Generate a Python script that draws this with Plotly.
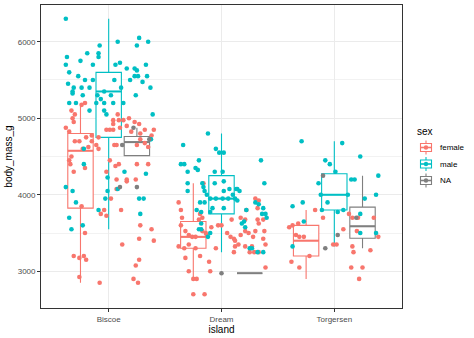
import plotly.graph_objects as go

# ---------------- data ----------------
islands = ["Biscoe", "Dream", "Torgersen"]
sexes = ["female", "male", "NA"]

# box statistics (per island: Biscoe, Dream, Torgersen)
female_q1 = [3825, 3300, 3200]
female_med = [4575, 3450, 3400]
female_q3 = [4800, 3650, 3600]
female_lo = [2850, 2900, 2900]
female_hi = [5200, 4150, 3800]

male_q1 = [4750, 3750, 3800]
male_med = [5350, 3950, 4000]
male_q3 = [5600, 4250, 4275]
male_lo = [3550, 3250, 3325]
male_hi = [6300, 4800, 4700]

na_q1 = [4512, 2975, 3431]
na_med = [4688, 2975, 3588]
na_q3 = [4762, 2975, 3838]
na_lo = [4512, 2975, 3300]
na_hi = [4875, 2975, 4250]

# boxplot outliers
outlier_island = ["Biscoe", "Dream"]
outlier_sex = ["NA", "female"]
outlier_mass = [4100, 2700]

# jittered points: horizontal jitter (island units) and body mass (g)
biscoe_female_jit = [-0.21, -0.24, -0.33, -0.30, -0.32, -0.31, 0.08, 0.09, 0.04, 0.04, 0.13, 0.18, 0.16, 0.23,
                     0.27, 0.32, 0.40, 0.20, 0.10, 0.04, -0.02, 0.01, -0.38, -0.35, -0.15, -0.09, -0.30, -0.26,
                     -0.20, -0.15, 0.38, 0.28, 0.28, 0.32, 0.25, 0.05, 0.07, -0.11, -0.18, 0.35,
                     -0.23, -0.09, -0.33, -0.35, -0.34, -0.21, -0.31, 0.01, 0.09, 0.06, 0.25, 0.35, -0.02, 0.07,
                     0.16, 0.16, 0.24, 0.07, 0.02, 0.11, -0.04, -0.07, -0.02, -0.24, 0.28, 0.38, -0.21, 0.27,
                     0.40, 0.12, -0.31, -0.26, -0.22, -0.20, 0.27, 0.24, -0.26, 0.22, 0.26, -0.08]
biscoe_female_mass = [5200, 5175, 5100, 5050, 5000, 4950, 5050, 4975, 4975, 4925, 4975, 5000, 4900, 4950,
                      4925, 4850, 4850, 4825, 4875, 4850, 4850, 4850, 4875, 4825, 4775, 4750, 4700, 4700,
                      4750, 4700, 4775, 4800, 4725, 4675, 4650, 4650, 4650, 4650, 4625, 4625,
                      4600, 4600, 4500, 4450, 4400, 4350, 4300, 4450, 4400, 4375, 4400, 4400, 4300, 4200,
                      4200, 4175, 4200, 4075, 3950, 3800, 3800, 3750, 3725, 3850, 3600, 3550, 3500, 3425,
                      3400, 3350, 3200, 3175, 3200, 3150, 3150, 3075, 2925, 2900, 2850, 2850]

biscoe_male_jit = [-0.38, 0.27, 0.35, 0.08, -0.08, 0.25, -0.37, -0.09, -0.19, -0.09, -0.25, -0.38, -0.14, 0.06,
                   0.10, 0.33, 0.16, 0.23, 0.25, -0.35, 0.23, 0.26, -0.27, 0.34, -0.21, -0.14, 0.05, 0.19,
                   -0.36, 0.30, -0.31, -0.24, -0.17, -0.32, -0.32, -0.23, 0.37, 0.11, -0.04, 0.02, -0.10, 0.24,
                   -0.35, -0.29, -0.11, -0.04, 0.04, 0.13, -0.17, -0.04, -0.07, -0.02, 0.39, 0.37, 0.375,
                   -0.22, -0.22, 0.14, 0.33, -0.01, -0.38, -0.32, -0.01, 0.08, -0.03, 0.27, 0.31, -0.29,
                   -0.09, 0.28, -0.35, -0.33, -0.23]
biscoe_male_mass = [6300, 6050, 6000, 6000, 5950, 5950, 5800, 5850, 5850, 5800, 5750, 5700, 5700, 5700,
                    5725, 5700, 5650, 5650, 5625, 5600, 5550, 5550, 5550, 5550, 5500, 5500, 5500, 5500,
                    5450, 5475, 5400, 5400, 5400, 5350, 5325, 5300, 5400, 5400, 5350, 5300, 5300, 5300,
                    5200, 5200, 5200, 5200, 5200, 5200, 5100, 5100, 5250, 5050, 5050, 4725, 4725,
                    4600, 4400, 4300, 4275, 4225, 4100, 4050, 4050, 4075, 3950, 3950, 3950, 3900,
                    3800, 3750, 3700, 3550, 3600]

biscoe_na_jit = [0.10, 0.22, 0.36, 0.12]
biscoe_na_mass = [4100, 4875, 4725, 4650]

dream_female_jit = [-0.38, -0.36, -0.35, -0.19, -0.17, -0.20, -0.09, -0.36, -0.32, -0.29, -0.26, -0.23, -0.17,
                    -0.14, -0.13, -0.38, -0.33, -0.29, -0.23, -0.19, -0.32, -0.11, -0.10, -0.29, -0.25, -0.22,
                    -0.05, -0.03, 0.00, 0.05, 0.08, 0.11, 0.12, 0.15, 0.11, 0.12, 0.17, 0.21, 0.24, 0.28, 0.30,
                    0.32, 0.33, 0.37, 0.38, 0.37, 0.39, 0.27, 0.21, 0.25, 0.29, 0.33, 0.39, 0.30, 0.33, 0.32,
                    0.22, 0.17, 0.21, 0.09, -0.16, -0.15]
dream_female_mass = [3900, 3800, 3700, 3750, 3700, 3675, 3575, 3600, 3525, 3475, 3450, 3450, 3525,
                     3500, 3475, 3325, 3300, 3350, 3300, 3200, 3175, 3125, 3000, 3000, 2900, 2900,
                     3300, 3600, 3600, 3500, 3450, 3425, 3400, 3350, 3250, 3325, 3475, 3525, 3500, 3450, 3525,
                     3675, 3625, 3675, 3525, 3425, 3350, 3325, 3325, 3250, 3250, 3250, 3050, 3950, 3925, 3825,
                     3800, 3700, 3675, 3675, 4150, 2700]

dream_male_jit = [-0.12, -0.34, -0.05, -0.02, -0.36, -0.33, -0.20, -0.23, -0.21, -0.30, 0.35, 0.38, -0.30, -0.30,
                  -0.15, -0.06, 0.01, -0.06, 0.02, 0.13, 0.10, 0.12, 0.14, -0.10, -0.05, 0.01, 0.06, -0.08,
                  0.02, -0.10, 0.30, 0.33, 0.37, 0.39, 0.40, -0.22, -0.18, -0.20, -0.18, -0.12, 0.20, 0.18,
                  0.21, 0.27, 0.32, 0.37, 0.25, 0.02, -0.17, -0.16, -0.13, -0.19, -0.15, 0.02, 0.07, 0.14,
                  0.16, 0.22, 0.36, -0.10, -0.18]
dream_male_mass = [4800, 4650, 4600, 4550, 4400, 4400, 4450, 4350, 4325, 4300, 4450, 4150, 4150, 4050,
                   4050, 4300, 4300, 4150, 4175, 4075, 4000, 3950, 3925, 3950, 3950, 3950, 3950, 3825,
                   3825, 3775, 3900, 3875, 3825, 3750, 3700, 3800, 3775, 3550, 3550, 3450, 3650, 3625,
                   3575, 3300, 3250, 3250, 3300, 4550, 4150, 4100, 4000, 3900, 3900, 4050, 4075, 4075,
                   4050, 3800, 3750, 3500, 3625]

dream_na_jit = [0.0]
dream_na_mass = [2975]

torgersen_female_jit = [-0.17, -0.10, -0.40, -0.37, -0.32, -0.31, -0.27, -0.34, -0.22, -0.38, -0.31, 0.08, -0.01,
                        0.02, 0.16, 0.21, 0.35, 0.39, 0.16, 0.17, 0.32, 0.15, 0.25, 0.22, 0.20, 0.13]
torgersen_female_mass = [3800, 3700, 3575, 3600, 3625, 3450, 3450, 3475, 3200, 3125, 3050, 3550, 3350,
                         3350, 3700, 3700, 3700, 3450, 3325, 3250, 3275, 3050, 3050, 2900, 3525, 3750]

torgersen_male_jit = [-0.29, 0.07, 0.23, -0.08, -0.04, 0.01, 0.39, -0.14, 0.15, 0.18, -0.12, 0.12, 0.37, -0.37,
                      -0.28, -0.06, -0.11, 0.03, 0.08, -0.27, -0.37, 0.23, 0.23, 0.37, 0.27]
torgersen_male_mass = [4700, 4675, 4500, 4450, 4400, 4300, 4250, 4150, 4200, 4200, 4000, 4000, 4000, 3850,
                       3900, 3900, 3800, 3775, 3800, 3650, 3325, 3750, 3500, 3500, 3950]

torgersen_na_jit = [-0.10, 0.195, 0.03, -0.08]
torgersen_na_mass = [4250, 3700, 3475, 3300]

# ---------------- styling ----------------
colors = {"female": "#F8766D", "male": "#00BFC4", "NA": "#7F7F7F"}
font_family = "Liberation Sans, Arial, Helvetica, sans-serif"
W, H = 474, 338
M_L, M_R, M_T, M_B = 41, 72, 5, 30
PW, PH = W - M_L - M_R, H - M_T - M_B
BOXGAP = 0.25
BOXGROUPGAP = 0.1
pos = {isl: i + 1 for i, isl in enumerate(islands)}
slot = (1 - BOXGAP) / len(sexes)
half_box = slot * (1 - BOXGROUPGAP) / 2
dodge = {s: (k - (len(sexes) - 1) / 2) * slot for k, s in enumerate(sexes)}

box_stats = {
    "female": (female_q1, female_med, female_q3, female_lo, female_hi),
    "male": (male_q1, male_med, male_q3, male_lo, male_hi),
    "NA": (na_q1, na_med, na_q3, na_lo, na_hi),
}
points = {
    ("Biscoe", "female"): (biscoe_female_jit, biscoe_female_mass),
    ("Biscoe", "male"): (biscoe_male_jit, biscoe_male_mass),
    ("Biscoe", "NA"): (biscoe_na_jit, biscoe_na_mass),
    ("Dream", "female"): (dream_female_jit, dream_female_mass),
    ("Dream", "male"): (dream_male_jit, dream_male_mass),
    ("Dream", "NA"): (dream_na_jit, dream_na_mass),
    ("Torgersen", "female"): (torgersen_female_jit, torgersen_female_mass),
    ("Torgersen", "male"): (torgersen_male_jit, torgersen_male_mass),
    ("Torgersen", "NA"): (torgersen_na_jit, torgersen_na_mass),
}

fig = go.Figure()

for s in sexes:
    q1, med, q3, lo, hi = box_stats[s]
    fig.add_trace(go.Box(
        x=[pos[i] for i in islands], q1=q1, median=med, q3=q3,
        lowerfence=lo, upperfence=hi, name=s,
        line=dict(color=colors[s], width=1.1), fillcolor="white",
        boxpoints=False, whiskerwidth=0, showlegend=False, hoverinfo="skip",
    ))

# thicker median bars (ggplot fatten = 2)
for s in sexes:
    med = box_stats[s][1]
    mx, my = [], []
    for isl, m in zip(islands, med):
        c = pos[isl] + dodge[s]
        mx += [c - half_box, c + half_box, None]
        my += [m, m, None]
    fig.add_trace(go.Scatter(x=mx, y=my, mode="lines", line=dict(color=colors[s], width=2),
                             showlegend=False, hoverinfo="skip"))

# outliers at box centres
for isl, s, m in zip(outlier_island, outlier_sex, outlier_mass):
    fig.add_trace(go.Scatter(
        x=[pos[isl] + dodge[s]], y=[m], mode="markers",
        marker=dict(size=4.6, color=colors[s]), showlegend=False, hoverinfo="skip",
    ))

for s in sexes:
    xs, ys = [], []
    for isl in islands:
        jit, mass = points[(isl, s)]
        xs += [pos[isl] + j for j in jit]
        ys += list(mass)
    fig.add_trace(go.Scatter(
        x=xs, y=ys, mode="markers",
        marker=dict(size=4.6, color=colors[s], line=dict(width=0)),
        showlegend=False, hoverinfo="skip",
    ))

# ---------------- ggplot-style legend (layout decoration) ----------------
def px(x):
    return (x - M_L) / PW


def py(y):
    return (M_T + PH - y) / PH


LEG_TITLE_X, LEG_TITLE_Y = 415, 131
KEY_X, TEXT_X = 426, 438
ITEM_Y0, ITEM_DY = 147.5, 16.5
shapes, annotations = [], []
annotations.append(dict(text="sex", x=px(LEG_TITLE_X), y=py(LEG_TITLE_Y), xref="paper", yref="paper",
                        xanchor="left", yanchor="middle", showarrow=False,
                        font=dict(size=10, color="black", family=font_family)))
for k, s in enumerate(sexes):
    yc = ITEM_Y0 + k * ITEM_DY
    c = colors[s]
    shapes.append(dict(type="line", xref="paper", yref="paper", x0=px(KEY_X), x1=px(KEY_X),
                       y0=py(yc - 7), y1=py(yc + 7), line=dict(color=c, width=1.1)))
    shapes.append(dict(type="rect", xref="paper", yref="paper", x0=px(KEY_X - 5.5), x1=px(KEY_X + 5.5),
                       y0=py(yc - 4), y1=py(yc + 4), fillcolor="white", line=dict(color=c, width=1.1)))
    shapes.append(dict(type="line", xref="paper", yref="paper", x0=px(KEY_X - 5.5), x1=px(KEY_X + 5.5),
                       y0=py(yc), y1=py(yc), line=dict(color=c, width=1.6)))
    shapes.append(dict(type="circle", xref="paper", yref="paper", x0=px(KEY_X - 2.2), x1=px(KEY_X + 2.2),
                       y0=py(yc - 2.2), y1=py(yc + 2.2), fillcolor=c, line=dict(width=0)))
    annotations.append(dict(text=s, x=px(TEXT_X), y=py(yc), xref="paper", yref="paper",
                            xanchor="left", yanchor="middle", showarrow=False,
                            font=dict(size=8, color="black", family=font_family)))

axis_common = dict(
    showline=True, mirror=True, linecolor="#333333", linewidth=0.8,
    ticks="outside", ticklen=3, tickwidth=0.8, tickcolor="#333333",
    tickfont=dict(size=8, color="#4D4D4D", family=font_family),
    showgrid=True, gridcolor="#EBEBEB", gridwidth=1, zeroline=False,
)

fig.update_layout(
    width=W, height=H,
    margin=dict(l=M_L, r=M_R, t=M_T, b=M_B),
    paper_bgcolor="white", plot_bgcolor="white",
    font=dict(family=font_family, color="black"),
    boxmode="group", boxgap=BOXGAP, boxgroupgap=BOXGROUPGAP,
    showlegend=False,
    shapes=shapes, annotations=annotations,
    xaxis=dict(
        range=[0.4, 3.6], tickmode="array", tickvals=[pos[i] for i in islands], ticktext=islands,
        title=dict(text="island", font=dict(size=10), standoff=2),
        **axis_common,
    ),
    yaxis=dict(
        range=[2520, 6480], tickmode="array", tickvals=[3000, 4000, 5000, 6000],
        minor=dict(tickmode="array", tickvals=[3500, 4500, 5500], showgrid=True,
                   gridcolor="#F2F2F2", gridwidth=0.6, ticks=""),
        title=dict(text="body_mass_g", font=dict(size=10), standoff=3),
        **axis_common,
    ),
)

fig.write_html("out.html")
